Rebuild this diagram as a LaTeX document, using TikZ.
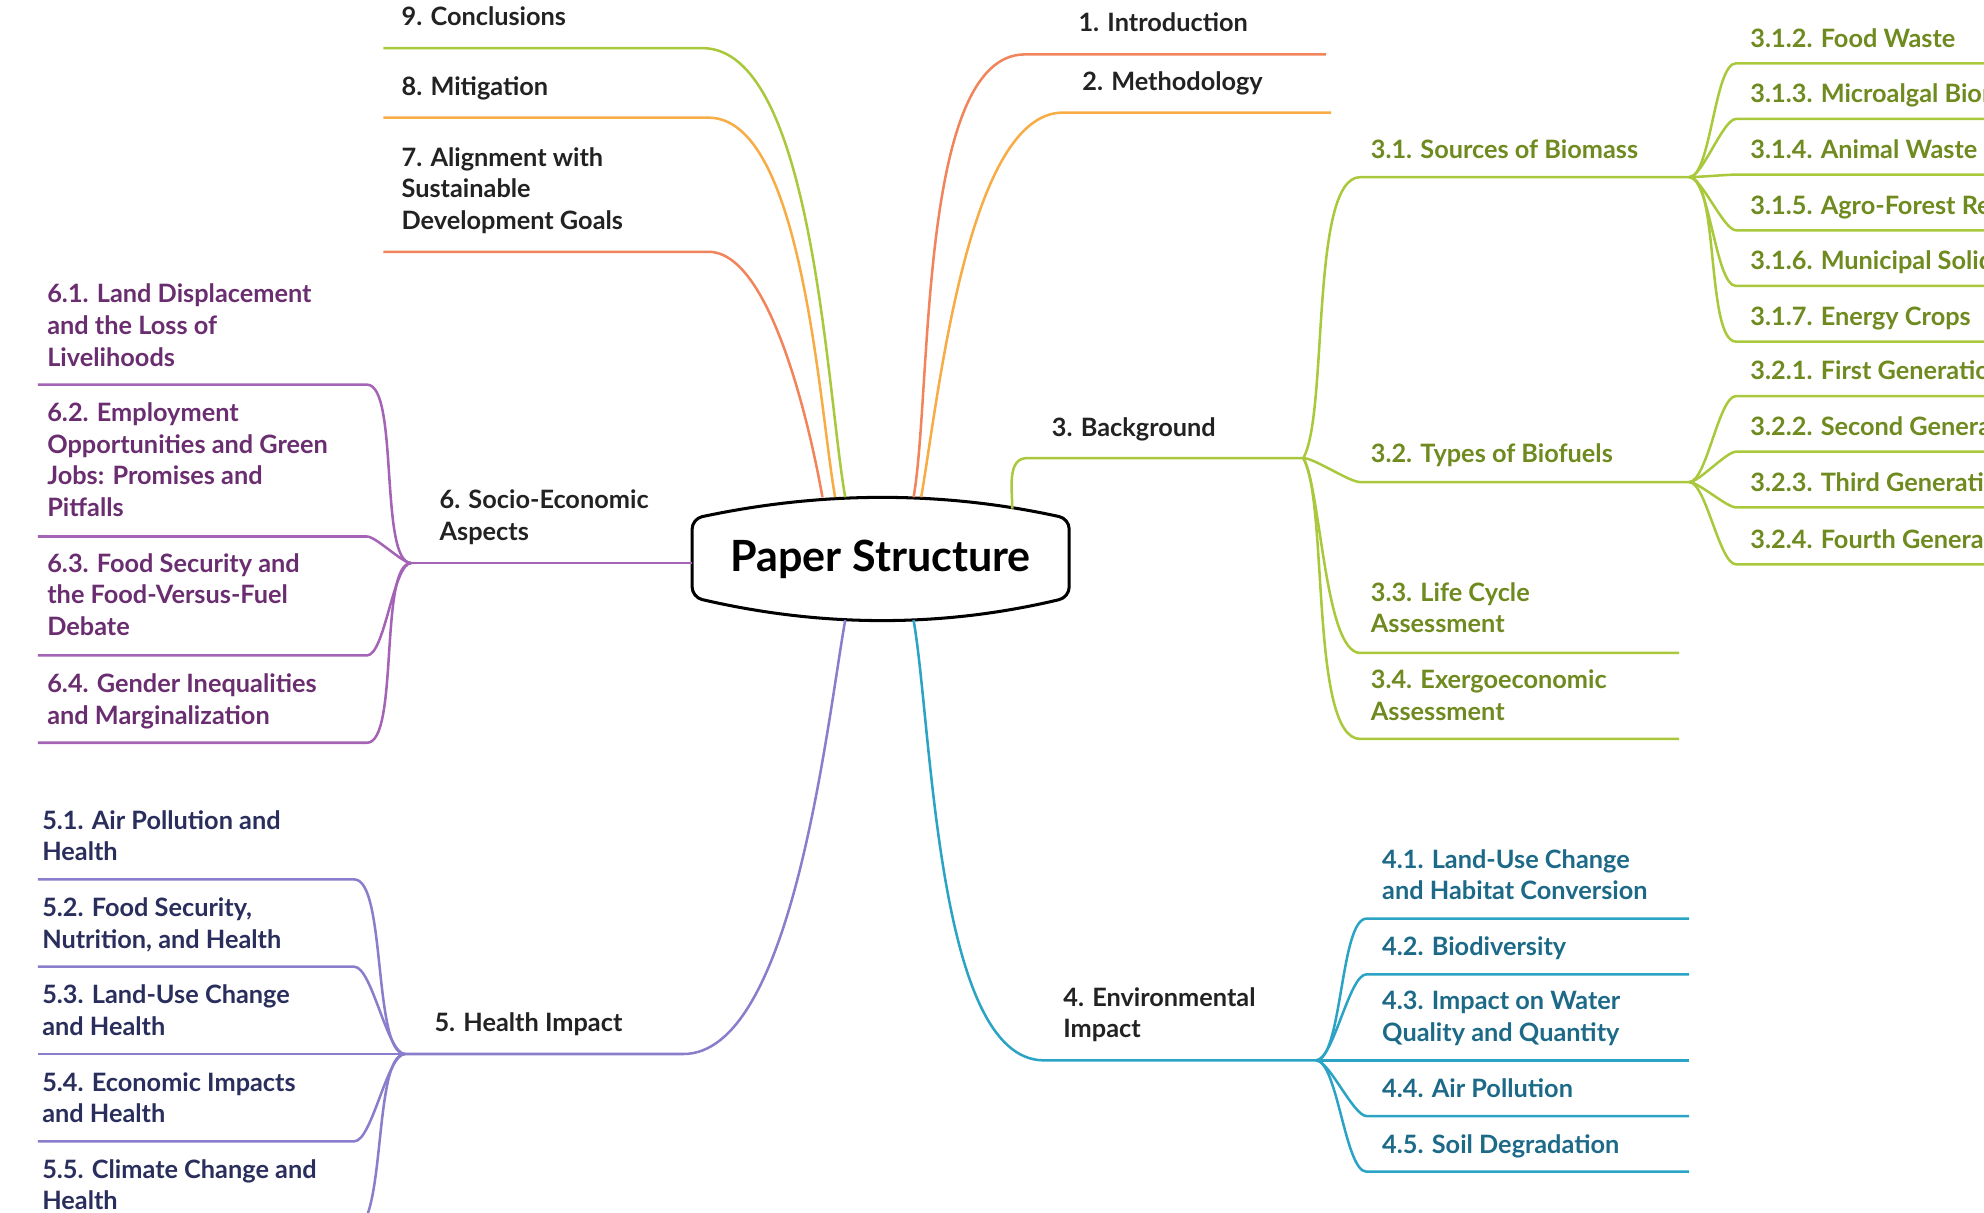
\documentclass[tikz,border=0pt]{standalone}
\usepackage{fontspec}
\setmainfont{Lato}
\begin{document}
\begin{tikzpicture}[x=0.5pt,y=0.5pt,
  txt/.style={anchor=north west,inner sep=0pt,align=left,font=\bfseries\fontsize{10}{12.5}\selectfont},
  ln/.style={line width=1pt},
  br/.style={looseness=0.45}]
\definecolor{cOr}{HTML}{F2845C}
\definecolor{cLo}{HTML}{F7AC45}
\definecolor{cGr}{HTML}{A9C83C}
\definecolor{cPu}{HTML}{A563B5}
\definecolor{cSl}{HTML}{8A7DCB}
\definecolor{cTe}{HTML}{2BA3C4}
\definecolor{tGr}{HTML}{6F8A1F}
\definecolor{tTe}{HTML}{1D6A88}
\definecolor{tPu}{HTML}{6A2E70}
\definecolor{tNa}{HTML}{2A2E5C}
\definecolor{tBk}{HTML}{222222}
\useasboundingbox (0,0) rectangle (1568,-958);
\clip (0,0) rectangle (1568,-958);
% center
\draw[line width=1.2pt,rounded corners=4pt,fill=white] (547,-410) .. controls (650,-388) and (745,-388) .. (845,-410) -- (845,-472) .. controls (745,-496) and (650,-496) .. (547,-472) -- cycle;
\node[font=\bfseries\fontsize{17}{20}\selectfont] (center) at (696,-442) {Paper Structure};
% top right
\coordinate (c1) at (722,-393); \coordinate (c2) at (728,-393);
\draw[ln,cOr] (c1) to[out=80,in=180,looseness=0.6] (810,-43) coordinate (i1) -- (1048,-43) coordinate (i2);
\node[txt,text=tBk] (intro) at (852,-10) {1. Introduction};
\draw[ln,cLo] (c2) to[out=80,in=180,looseness=0.6] (840,-89) coordinate (m1) -- (1052,-89);
\node[txt,text=tBk] (meth) at (855,-56) {2. Methodology};
% top left
\draw[ln,cGr] (668,-393) coordinate (c9) to[out=100,in=0,looseness=0.6] (555,-38) -- (303,-38);
\node[txt,text=tBk] (concl) at (317,-5) {9. Conclusions};
\draw[ln,cLo] (660,-393) coordinate (c8) to[out=100,in=0,looseness=0.6] (560,-93) -- (303,-93);
\node[txt,text=tBk] (mitig) at (317,-60) {8. Mitigation};
\draw[ln,cOr] (650,-393) coordinate (c7) to[out=100,in=0,looseness=0.6] (560,-199) -- (303,-199);
\node[txt,text=tBk] (sdg) at (317,-116) {7. Alignment with\\Sustainable\\Development Goals};
% background
\coordinate (bg) at (1030,-362);
\draw[ln,cGr] (800,-402) to[out=90,in=180] (812,-362) -- (bg);
\node[txt,text=tBk] (back) at (831,-330) {3. Background};
\coordinate (s31) at (1335,-140);
\draw[ln,cGr] (bg) to[out=60,in=180,br] (1075,-140) -- (s31);
\node[txt,text=tGr] (n31) at (1083,-110) {3.1. Sources of Biomass};
\foreach \t/\y in {3.1.2. Food Waste/50,3.1.3. Microalgal Biomass/94,3.1.4. Animal Waste/138,3.1.5. Agro-Forest Residues/182,3.1.6. Municipal Solid Waste/226,3.1.7. Energy Crops/270}{
  \draw[ln,cGr] (s31) to[out=0,in=180,br] (1372,-\y) -- (1568,-\y);
  \node[txt,text=tGr] at (1383,-\y+28) {\t};}
\coordinate (s32) at (1335,-381);
\draw[ln,cGr] (bg) to[out=0,in=180,br] (1075,-381) -- (s32);
\node[txt,text=tGr] (n32) at (1083,-350) {3.2. Types of Biofuels};
\foreach \t/\y in {3.2.1. First Generation/313,3.2.2. Second Generation/357,3.2.3. Third Generation/401,3.2.4. Fourth Generation/446}{
  \draw[ln,cGr] (s32) to[out=0,in=180,br] (1372,-\y) -- (1568,-\y);
  \node[txt,text=tGr] at (1383,-\y+28) {\t};}
\draw[ln,cGr] (bg) to[out=-60,in=180,br] (1075,-516) -- (1327,-516);
\node[txt,text=tGr] (n33) at (1083,-460) {3.3. Life Cycle\\Assessment};
\draw[ln,cGr] (bg) to[out=-60,in=180,br] (1075,-584) -- (1327,-584);
\node[txt,text=tGr] (n34) at (1083,-529) {3.4. Exergoeconomic\\Assessment};
% environmental
\coordinate (env) at (1040,-838);
\draw[ln,cTe] (722,-490) to[out=-80,in=180,looseness=0.6] (825,-838) -- (env);
\node[txt,text=tBk] (n4) at (840,-780) {4. Environmental\\Impact};
\foreach \t/\y/\ty in {{4.1. Land-Use Change\\and Habitat Conversion}/726/671,4.2. Biodiversity/770/740,{4.3. Impact on Water\\Quality and Quantity}/838/783,4.4. Air Pollution/882/852,4.5. Soil Degradation/926/896}{
  \draw[ln,cTe] (env) to[out=0,in=180,br] (1080,-\y) -- (1335,-\y);
  \node[txt,text=tTe] at (1092,-\ty) {\t};}
% health
\coordinate (hl) at (320,-833);
\draw[ln,cSl] (668,-490) to[out=-100,in=0,looseness=0.6] (540,-833) -- (hl);
\node[txt,text=tBk] (n5) at (343,-800) {5. Health Impact};
\foreach \t/\y/\ty in {{5.1. Air Pollution and\\Health}/695/640,{5.2. Food Security,\\Nutrition, and Health}/764/709,{5.3. Land-Use Change\\and Health}/833/778,{5.4. Economic Impacts\\and Health}/902/847,{5.5. Climate Change and\\Health}/971/916}{
  \draw[ln,cSl] (hl) to[out=180,in=0,br] (280,-\y) -- (30,-\y);
  \node[txt,text=tNa] at (33,-\ty) {\t};}
% socio
\coordinate (so) at (325,-445);
\draw[ln,cPu] (547,-445) -- (so);
\node[txt,text=tBk] (n6) at (347,-387) {6. Socio-Economic\\Aspects};
\foreach \t/\y/\ty in {{6.1. Land Displacement\\and the Loss of\\Livelihoods}/304/224,{6.2. Employment\\Opportunities and Green\\Jobs: Promises and\\Pitfalls}/424/318,{6.3. Food Security and\\the Food-Versus-Fuel\\Debate}/518/437,{6.4. Gender Inequalities\\and Marginalization}/587/532}{
  \draw[ln,cPu] (so) to[out=180,in=0,br] (290,-\y) -- (30,-\y);
  \node[txt,text=tPu] at (37,-\ty) {\t};}
\end{tikzpicture}
\end{document}
